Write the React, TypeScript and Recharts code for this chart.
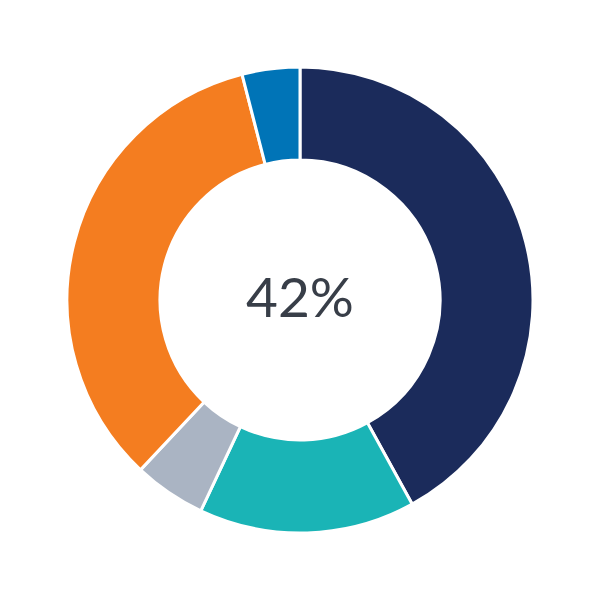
import React from 'react';
import { PieChart, Pie, Cell, Label } from 'recharts';

// Segment shares, clockwise from 12 o'clock
const segments = ['Navy', 'Teal', 'Gray', 'Orange', 'Blue'];
const shares = [42, 15, 5, 34, 4];
const palette = ['#1b2b5b', '#1ab4b6', '#aab4c3', '#f47d20', '#0074b7'];
const centerLabel = '42%';

const data = segments.map((name, i) => ({ name, value: shares[i] }));

const App: React.FC = () => {
  return (
    <div style={{ position: 'absolute', left: 0, top: 0, width: 600, height: 600, background: '#fff' }}>
      <PieChart width={600} height={600} margin={{ top: 0, right: 0, bottom: 0, left: 0 }}>
        <Pie
          data={data}
          dataKey="value"
          nameKey="name"
          cx={300}
          cy={300}
          innerRadius={140}
          outerRadius={233}
          startAngle={90}
          endAngle={-270}
          stroke="#ffffff"
          strokeWidth={3}
          isAnimationActive={false}
        >
          {data.map((d, i) => (
            <Cell key={d.name} fill={palette[i]} />
          ))}
          <Label
            value={centerLabel}
            position="center"
            dy={-3}
            fill="#383e48"
            style={{ fontFamily: 'Lato, sans-serif', fontSize: 55, fontWeight: 400 }}
          />
        </Pie>
      </PieChart>
    </div>
  );
};

export default App;
